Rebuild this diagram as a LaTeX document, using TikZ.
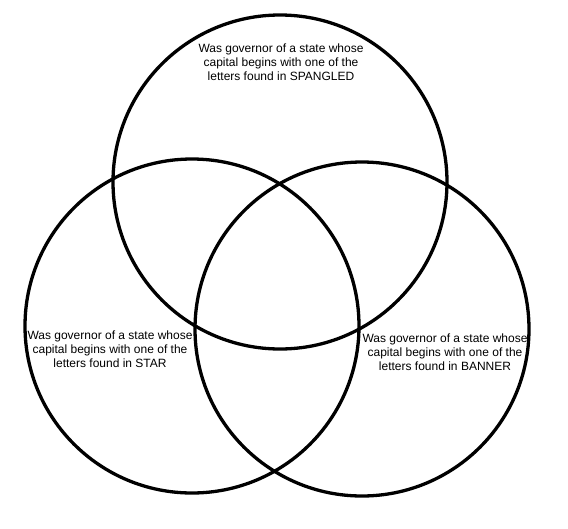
\documentclass[tikz,border=0pt]{standalone}
\usepackage{fontspec}
\setmainfont{Liberation Sans}
\usetikzlibrary{shapes}

\begin{document}
\begin{tikzpicture}[x=1pt,y=-1pt,
  ring/.style={draw=black,circle,line width=3.3pt,minimum size=334pt,inner sep=0pt},
  label/.style={align=center,inner sep=0pt,font=\fontsize{12}{14.2}\selectfont}]
\useasboundingbox (0,0) rectangle (568,528);
\node[ring] (spangled) at (280,182) {};
\node[ring] (star) at (192,326) {};
\node[ring] (banner) at (362,329) {};
\node[label] (spangledtext) at (281,62) {Was governor of a state whose\\capital begins with one of the\\letters found in SPANGLED};
\node[label] (startext) at (110,349) {Was governor of a state whose\\capital begins with one of the\\letters found in STAR};
\node[label] (bannertext) at (445,352) {Was governor of a state whose\\capital begins with one of the\\letters found in BANNER};
\end{tikzpicture}
\end{document}
